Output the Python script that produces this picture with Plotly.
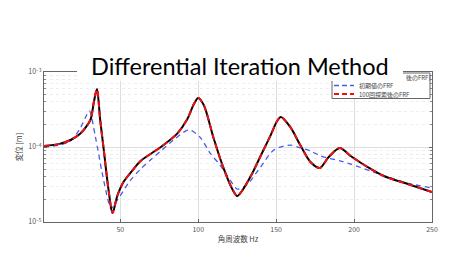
import plotly.graph_objects as go

# True FRF (black) and 100-iteration result (red)
f_true = [1, 11, 18, 24, 28, 31, 33, 35, 37, 39.3, 42.5, 45, 48, 52, 57.5, 63, 76, 86.5, 93, 97.2, 100,
          103.6, 110, 116.4, 121.8, 125, 128, 134, 140, 146.5, 150.5, 153, 159, 165.8, 172, 178, 183.7,
          190.8, 197.8, 208.6, 219, 234.4, 250]
v_true = [1.03e-4, 1.10e-4, 1.24e-4, 1.49e-4, 1.85e-4, 2.36e-4, 3.98e-4, 5.93e-4, 2.36e-4, 9.4e-5,
          2.6e-5, 1.32e-5, 2.22e-5, 3.41e-5, 4.79e-5, 6.51e-5, 1.0e-4, 1.51e-4, 2.36e-4, 3.75e-4, 4.5e-4,
          3.6e-4, 1.28e-4, 5.1e-5, 2.75e-5, 2.22e-5, 2.59e-5, 4.2e-5, 7.59e-5, 1.44e-4, 2.2e-4, 2.51e-4,
          1.85e-4, 1.03e-4, 6.31e-5, 5.25e-5, 7.36e-5, 9.7e-5, 7.59e-5, 5.41e-5, 4.10e-5, 3.21e-5, 2.51e-5]

# Initial FRF (blue dashed)
f_init = [1, 11, 18, 24, 28.7, 30.2, 33.9, 38.2, 42.4, 44, 46, 50, 56, 63, 70, 76, 85, 94, 101, 108,
          114, 120.6, 125, 131, 140, 148.5, 159, 165, 172, 178.6, 191, 197.8, 212.5, 234, 250]
v_init = [1.0e-4, 1.06e-4, 1.20e-4, 1.74e-4, 2.75e-4, 3.02e-4, 1.40e-4, 4.64e-5, 1.85e-5, 1.49e-5,
          1.70e-5, 2.25e-5, 3.5e-5, 5.09e-5, 6.92e-5, 8.85e-5, 1.28e-4, 1.69e-4, 1.36e-4, 8.07e-5,
          5.75e-5, 3.6e-5, 2.75e-5, 3.11e-5, 5.41e-5, 9.1e-5, 1.06e-4, 9.8e-5, 8.85e-5, 7.59e-5,
          6.51e-5, 5.93e-5, 4.64e-5, 3.31e-5, 2.84e-5]

x_ticks = [50, 100, 150, 200, 250]
y_ticks = [1e-5, 1e-4, 1e-3]
y_ticktext = ["10<sup>−5</sup>", "10<sup>−4</sup>", "10<sup>−3</sup>"]
y_minor = [m * 1e-5 for m in range(2, 10)] + [m * 1e-4 for m in range(2, 10)]

title_text = "Differential Iteration Method"
x_label = "角周波数 Hz"
y_label = "変位 [m]"
name_init = "初期値のFRF"
name_fit = "100回探索後のFRF"
partial_text = "後のFRF)"

BLUE = "#4a5be8"
RED = "#ee1111"
cjk = "Noto Sans CJK JP"

fig = go.Figure()
fig.add_trace(go.Scatter(x=f_init, y=v_init, mode="lines", name=name_init, showlegend=False,
                         line=dict(color=BLUE, width=1.3, dash="5px,4px", shape="spline", smoothing=0.8)))
fig.add_trace(go.Scatter(x=f_true, y=v_true, mode="lines", name="true", showlegend=False,
                         line=dict(color="black", width=2.0, shape="spline", smoothing=0.8)))
fig.add_trace(go.Scatter(x=f_true, y=v_true, mode="lines", name=name_fit, showlegend=False,
                         line=dict(color=RED, width=2.0, dash="6px,4px", shape="spline", smoothing=0.8)))

fig.update_layout(
    width=474, height=258,
    margin=dict(l=44, r=42, t=72, b=36),
    paper_bgcolor="white", plot_bgcolor="white",
    showlegend=False,
    xaxis=dict(range=[1, 250], tickvals=x_ticks, showline=True, linecolor="#666", linewidth=1.2,
               mirror="ticks", ticks="inside", ticklen=3, tickcolor="#666",
               showgrid=True, gridcolor="#dddddd", gridwidth=1, zeroline=False,
               tickfont=dict(family=cjk, size=7, color="#555"),
               title=dict(text=x_label, font=dict(family=cjk, size=7.5, color="#444"), standoff=4)),
    yaxis=dict(type="log", range=[-5, -3], tickvals=y_ticks, ticktext=y_ticktext,
               showline=True, linecolor="#666", linewidth=1.2,
               mirror="ticks", ticks="inside", ticklen=3, tickcolor="#666",
               showgrid=True, gridcolor="#dddddd", gridwidth=1, zeroline=False,
               minor=dict(tickvals=y_minor, showgrid=True, gridcolor="#ededed", griddash="dot",
                          ticks="inside", ticklen=2, tickcolor="#888"),
               tickfont=dict(family=cjk, size=7, color="#555"),
               title=dict(text=y_label, font=dict(family=cjk, size=7.5, color="#444"), standoff=4)),
)

def px_x(p):
    return (p - 44) / 388

def px_y(p):
    return (222 - p) / 150

# legend box (drawn by hand so rows stay compact)
fig.add_shape(type="rect", xref="paper", yref="paper", x0=px_x(332), x1=px_x(430),
              y0=px_y(98.5), y1=px_y(73), fillcolor="white", line=dict(color="#666", width=1), layer="above")
fig.add_shape(type="line", xref="paper", yref="paper", x0=px_x(334), x1=px_x(354),
              y0=px_y(85.5), y1=px_y(85.5), line=dict(color=BLUE, width=1.5, dash="5px,3px"), layer="above")
fig.add_shape(type="line", xref="paper", yref="paper", x0=px_x(334), x1=px_x(354),
              y0=px_y(94), y1=px_y(94), line=dict(color=RED, width=2.2, dash="5px,3px"), layer="above")
fig.add_annotation(xref="paper", yref="paper", x=px_x(357), y=px_y(85.5), text=name_init,
                   showarrow=False, xanchor="left", yanchor="middle",
                   font=dict(family=cjk, size=6, color="#444"))
fig.add_annotation(xref="paper", yref="paper", x=px_x(357), y=px_y(94), text=name_fit,
                   showarrow=False, xanchor="left", yanchor="middle",
                   font=dict(family=cjk, size=6, color="#444"))

# white box behind the big title
fig.add_shape(type="rect", xref="paper", yref="paper", x0=px_x(77), x1=px_x(403),
              y0=px_y(81), y1=px_y(40), fillcolor="white", line=dict(width=0), layer="above")
fig.add_annotation(xref="paper", yref="paper", x=px_x(418), y=px_y(77.5), text=partial_text,
                   showarrow=False, font=dict(family=cjk, size=6, color="#444"), xanchor="center", yanchor="middle")
fig.add_annotation(xref="paper", yref="paper", x=px_x(240), y=px_y(66), text=title_text,
                   showarrow=False, font=dict(family="Lato", size=23.5, color="black"),
                   xanchor="center", yanchor="middle")

fig.write_html("out.html")
